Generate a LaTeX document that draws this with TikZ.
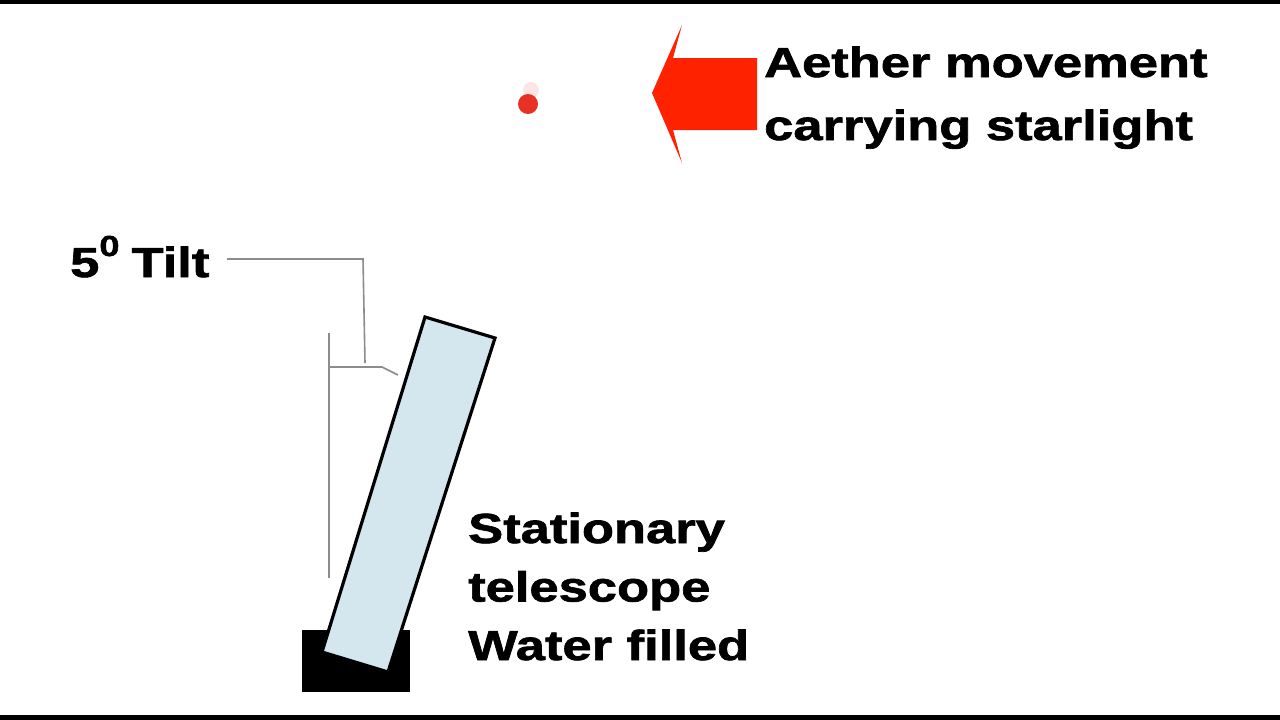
\documentclass[tikz,border=0pt]{standalone}
\usepackage{fontspec}
\usepackage{tikz}
\usetikzlibrary{calc}
\newfontfamily\labelfont{Liberation Sans}[FakeStretch=1.25,BoldFeatures={FakeBold=1.6}]
\definecolor{aetherRed}{RGB}{255,34,0}
\definecolor{starRed}{RGB}{232,48,36}
\definecolor{waterBlue}{RGB}{212,230,238}
\definecolor{leaderGray}{RGB}{140,140,140}
\tikzset{
  bigtext/.style={inner sep=0pt, anchor=base west, align=left, font={\labelfont\bfseries\fontsize{42}{58.5}\selectfont}},
  leader/.style={draw=leaderGray, line width=1.6pt},
  tube/.style={draw=black, line width=3.2pt, fill=waterBlue, line join=miter},
  socket/.style={fill=black},
  bar/.style={fill=black}
}

\begin{document}
\begin{tikzpicture}[x=1pt,y=-1pt]
  \useasboundingbox[fill=white] (0,0) rectangle (1280,720);
  \fill[bar] (0,0) rectangle (1280,4);
  \fill[bar] (0,715) rectangle (1280,720);

  \fill[starRed!12] (531,90) circle (8);
  \fill[starRed] (528,104) circle (10);
  \fill[aetherRed] (757,58) -- (673,58) -- (682,25) -- (652,93) -- (682,163) -- (673,130) -- (757,130) -- cycle;
  \node[bigtext, font={\labelfont\bfseries\fontsize{42}{63}\selectfont}] (aether) at (764,140) {Aether movement\\carrying starlight};

  \node[bigtext] (tilt) at (70,277) {5\raisebox{21pt}{\fontsize{29}{29}\selectfont 0}\hspace{12pt}Tilt};
  \coordinate (tiltend) at (227,259);
  \coordinate (tiltbend) at (363,259);
  \coordinate (tiltfoot) at (365,363);
  \coordinate (plumbtop) at (329,333);
  \coordinate (plumbfoot) at (329,578);
  \coordinate (armstart) at (330,367);
  \coordinate (armbend) at (382,367);
  \coordinate (armtip) at (398,375);
  \draw[leader] (tiltend) -- (tiltbend) -- (tiltfoot);
  \draw[leader] (plumbtop) -- (plumbfoot);
  \draw[leader] (armstart) -- (armbend) -- (armtip);

  \fill[socket] (302,630) rectangle (410,692);
  \draw[tube] (425,317) -- (495,338) -- (388,672) -- (322,652) -- cycle;

  \node[bigtext] (scope) at (468,660) {Stationary\\telescope\\Water filled};
\end{tikzpicture}
\end{document}
